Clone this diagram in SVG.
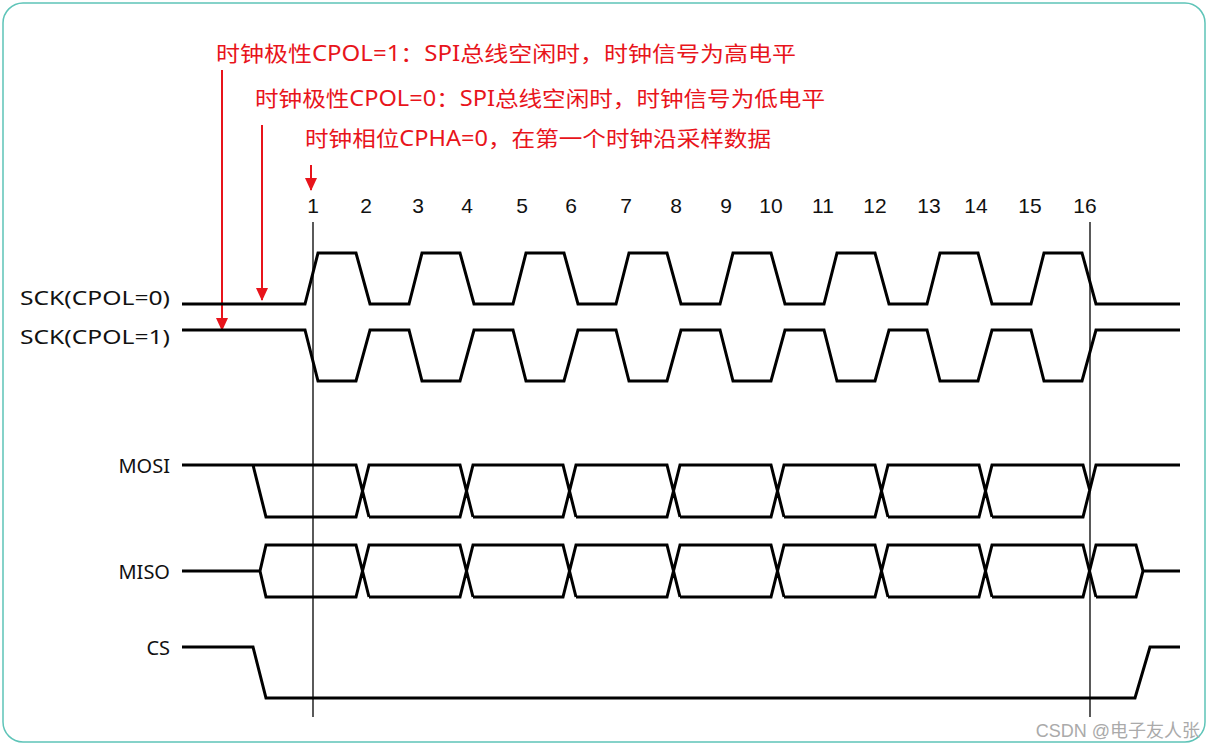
<svg xmlns="http://www.w3.org/2000/svg" width="1214" height="751" viewBox="0 0 1214 751">
<style>
.w{fill:none;stroke:#000;stroke-width:3;stroke-linejoin:miter}
.v{stroke:#000;stroke-width:1.3}
.n{font-family:"Liberation Sans",Arial,sans-serif;font-size:21px;fill:#111;text-anchor:middle}
.l{font-family:"Noto Sans","Liberation Sans",sans-serif;font-size:20px;fill:#111;text-anchor:end}
.r{font-family:"Noto Sans","Noto Sans CJK SC",sans-serif;font-size:21px;fill:#e8141b}
.a{stroke:#e8141b;stroke-width:2}
</style>
<defs>
<marker id="h" markerWidth="14" markerHeight="14" refX="12" refY="6" orient="auto" markerUnits="userSpaceOnUse"><path d="M0,0 L13,6 L0,12 z" fill="#e8141b"/></marker></defs>
<rect x="3" y="3" width="1202" height="739" rx="20" fill="#fff" stroke="#5ec4b8" stroke-width="1.5"/>
<g id="texts">
<text class="r" x="216" y="61" textLength="580" lengthAdjust="spacingAndGlyphs">时钟极性CPOL=1：SPI总线空闲时，时钟信号为高电平</text>
<text class="r" x="255" y="106" textLength="570" lengthAdjust="spacingAndGlyphs">时钟极性CPOL=0：SPI总线空闲时，时钟信号为低电平</text>
<text class="r" x="305" y="146" textLength="466" lengthAdjust="spacingAndGlyphs">时钟相位CPHA=0，在第一个时钟沿采样数据</text>
<text class="l" x="170" y="305" textLength="150" lengthAdjust="spacingAndGlyphs">SCK(CPOL=0)</text>
<text class="l" x="170" y="344" textLength="150" lengthAdjust="spacingAndGlyphs">SCK(CPOL=1)</text>
<text class="l" x="170" y="473">MOSI</text>
<text class="l" x="170" y="579">MISO</text>
<text class="l" x="170" y="655">CS</text>
<g class="n"><text x="313" y="213">1</text><text x="366" y="213">2</text><text x="418" y="213">3</text><text x="467" y="213">4</text><text x="522" y="213">5</text><text x="571" y="213">6</text><text x="626" y="213">7</text><text x="676" y="213">8</text><text x="726" y="213">9</text><text x="771" y="213">10</text><text x="823" y="213">11</text><text x="875" y="213">12</text><text x="929" y="213">13</text><text x="976" y="213">14</text><text x="1030" y="213">15</text><text x="1085" y="213">16</text></g>
<text x="1200" y="737" text-anchor="end" font-family="Liberation Sans,Noto Sans CJK SC,sans-serif" font-size="18" fill="#aaa">CSDN @电子友人张</text>
</g>
<g id="connectors">
<line class="a" x1="222" y1="70" x2="222" y2="330" marker-end="url(#h)"/>
<line class="a" x1="262" y1="125" x2="262" y2="300" marker-end="url(#h)"/>
<line class="a" x1="311" y1="165" x2="311" y2="190" marker-end="url(#h)"/>
</g>
<g id="waves">
<line class="v" x1="313" y1="222" x2="313" y2="717"/>
<line class="v" x1="1090" y1="222" x2="1090" y2="717"/>
<path class="w" d="M182,304 H305 L318,253 H356 L370,304 H409 L422,253 H460 L474,304 H513 L526,253 H564 L578,304 H616 L629,253 H667 L681,304 H720 L733,253 H771 L785,304 H824 L837,253 H875 L889,304 H927 L940,253 H978 L992,304 H1031 L1044,253 H1082 L1096,304 H1180"/>
<path class="w" d="M182,330 H305 L318,381 H356 L370,330 H409 L422,381 H460 L474,330 H513 L526,381 H564 L578,330 H616 L629,381 H667 L681,330 H720 L733,381 H771 L785,330 H824 L837,381 H875 L889,330 H927 L940,381 H978 L992,330 H1031 L1044,381 H1082 L1096,330 H1180"/>
<path class="w" d="M182,465 H356 L369,517 M253,465 L266,517 H356 L369,465 H460 L473,517 M369,517 H460 L473,465 H563 L576,517 M473,517 H563 L576,465 H667 L680,517 M576,517 H667 L680,465 H771 L784,517 M680,517 H771 L784,465 H875 L888,517 M784,517 H875 L888,465 H979 L992,517 M888,517 H979 L992,465 H1083 L1090,491 M992,517 H1083 L1096,465 H1180"/>
<path class="w" d="M182,571 H260 L266,545 H356 L369,597 M260,571 L266,597 H356 L369,545 H460 L473,597 M369,597 H460 L473,545 H563 L576,597 M473,597 H563 L576,545 H667 L680,597 M576,597 H667 L680,545 H771 L784,597 M680,597 H771 L784,545 H875 L888,597 M784,597 H875 L888,545 H979 L992,597 M888,597 H979 L992,545 H1083 L1096,597 M992,597 H1083 L1096,545 H1136 L1143,571 H1180 M1096,597 H1136 L1143,571"/>
<path class="w" d="M182,647 H253 L266,698 H1135 L1150,647 H1180"/>
</g>
</svg>
